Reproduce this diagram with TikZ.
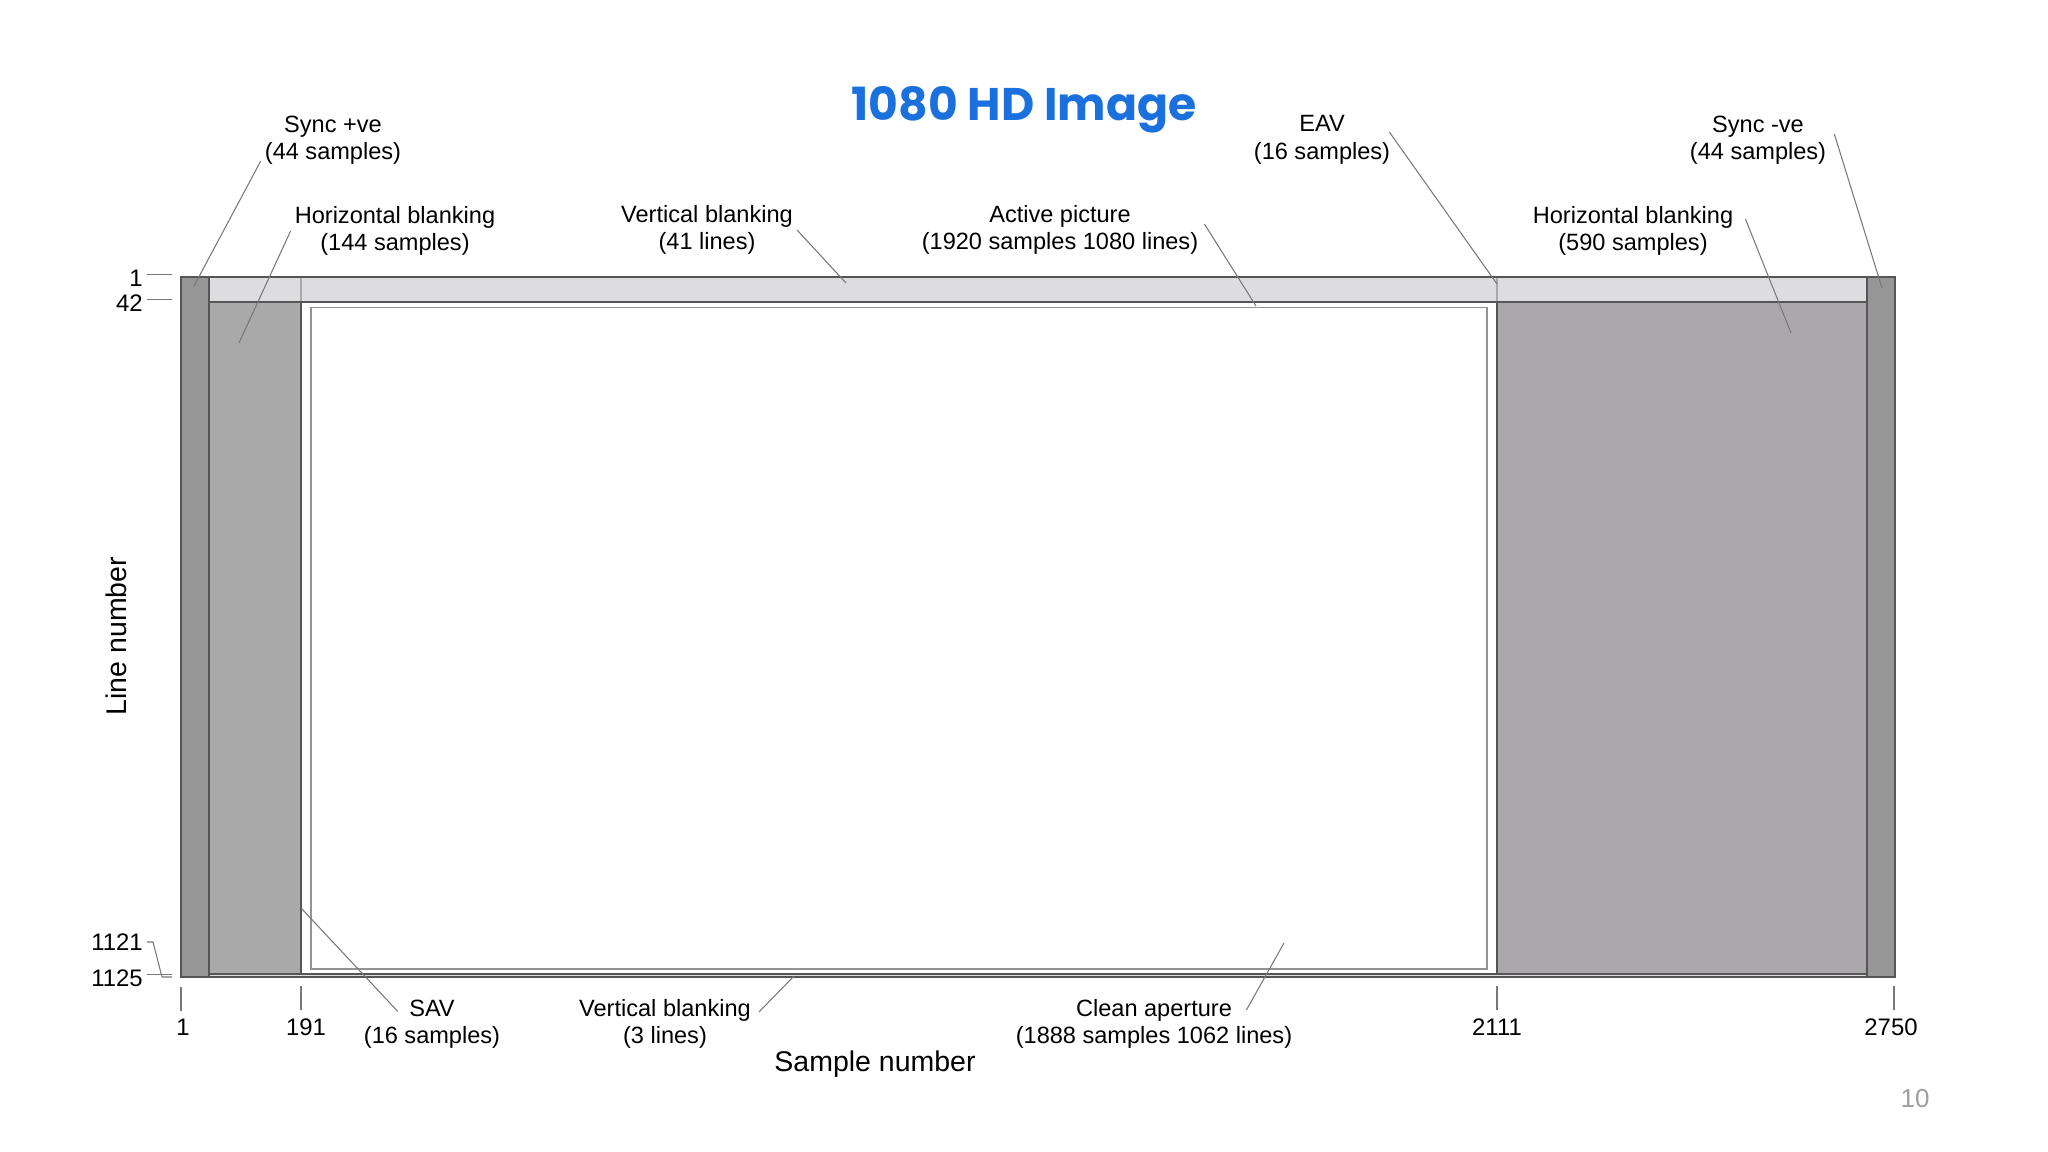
\documentclass[tikz,border=0pt]{standalone}
\usepackage{fontspec}
\setmainfont{Liberation Sans}
\newfontfamily\titlefont{Poppins}
\definecolor{titleblue}{RGB}{26,112,220}
\definecolor{syncgray}{RGB}{150,150,150}
\definecolor{hbgray}{RGB}{169,169,169}
\definecolor{hbrgray}{RGB}{170,168,171}
\definecolor{vbgray}{RGB}{221,220,222}
\definecolor{edgegray}{RGB}{85,85,85}
\definecolor{leadgray}{RGB}{120,120,120}

\begin{document}
\begin{tikzpicture}[x=0.01cm, y=-0.01cm,
    lbl/.style={align=center, inner sep=1pt, font=\fontsize{6.7pt}{7.8pt}\selectfont},
    num/.style={inner sep=1pt, font=\fontsize{6.8pt}{7.8pt}\selectfont},
    axl/.style={inner sep=1pt, font=\fontsize{8.1pt}{9pt}\selectfont},
    lead/.style={draw=leadgray, line width=0.3pt},
    blk/.style={draw=edgegray, line width=0.4pt}]
    \useasboundingbox (0,0) rectangle (2048,1152);
    \fill[vbgray] (209,277) rectangle (1867,302);
    \fill[vbgray] (209,974) rectangle (1867,977);
    \fill[syncgray] (181,277) rectangle (209,977);
    \fill[syncgray] (1867,277) rectangle (1895,977);
    \fill[hbgray] (209,302) rectangle (301,974);
    \fill[hbrgray] (1497,302) rectangle (1867,974);
    \draw[edgegray!50, line width=0.3pt] (301,277) -- (301,302) (1497,277) -- (1497,302);
    \draw[blk] (181,277) rectangle (1895,977);
    \draw[blk] (209,277) -- (209,977) (1867,277) -- (1867,977);
    \draw[blk] (209,302) -- (1867,302) (209,974) -- (1867,974);
    \draw[blk] (301,302) -- (301,974) (1497,302) -- (1497,974);
    \draw[gray!85, line width=0.5pt] (311,307.5) rectangle (1487,969);

    \node[font=\titlefont\bfseries\fontsize{13pt}{15pt}\selectfont, text=titleblue] (title) at (1024,110) {1080 HD Image};

    \node[lbl] (syncp) at (333,140) {Sync +ve\\(44 samples)};
    \node[lbl] (hbl) at (395,231) {Horizontal blanking\\(144 samples)};
    \node[lbl] (vbt) at (707,230) {Vertical blanking\\(41 lines)};
    \node[lbl] (act) at (1060,230) {Active picture\\(1920 samples 1080 lines)};
    \node[lbl] (eav) at (1322,140) {EAV\\(16 samples)};
    \node[lbl] (hbr) at (1633,231) {Horizontal blanking\\(590 samples)};
    \node[lbl] (syncn) at (1758,140) {Sync -ve\\(44 samples)};
    \node[lbl] (sav) at (432,1024) {SAV\\(16 samples)};
    \node[lbl] (vbb) at (665,1024) {Vertical blanking\\(3 lines)};
    \node[lbl] (cln) at (1154,1024) {Clean aperture\\(1888 samples 1062 lines)};

    \coordinate (syncpend) at (194,286);
    \coordinate (hblend) at (239,343);
    \coordinate (vbtend) at (846,283);
    \coordinate (actend) at (1256,306);
    \coordinate (eavend) at (1497,284);
    \coordinate (hbrend) at (1791,333);
    \coordinate (syncnend) at (1882,288);
    \coordinate (savend) at (302,909);
    \coordinate (vbbend) at (794,976);
    \coordinate (clnend) at (1284,943);
    \draw[lead] ([yshift=-6]syncp.west) -- (syncpend);
    \draw[lead] (hbl.west) -- (hblend);
    \draw[lead] (vbt.east) -- (vbtend);
    \draw[lead] ([shift={(2,-6)}]act.east) -- (actend);
    \draw[lead] ([shift={(-5,-8)}]eav.east) -- (eavend);
    \draw[lead] ([shift={(8,-12)}]hbr.east) -- (hbrend);
    \draw[lead] ([shift={(4,-6)}]syncn.east) -- (syncnend);
    \draw[lead] ([shift={(38,16)}]sav.north west) -- (savend);
    \draw[lead] ([shift={(4,-12)}]vbb.east) -- (vbbend);
    \draw[lead] ([shift={(-50,-14)}]cln.east) -- (clnend);

    \node[num, anchor=east] (r1) at (147,278) {1};
    \node[num, anchor=east] (r42) at (147,303) {42};
    \node[num, anchor=east] (r1121) at (147,942) {1121};
    \node[num, anchor=east] (r1125) at (147,978) {1125};
    \draw[lead] ([yshift=1]r1.east) -- ++(25,0);
    \draw[lead] ([yshift=1]r42.east) -- ++(25,0);
    \draw[lead] (r1121.east) -- ++(6,0) -- ++(9,35) -- ++(10,0);
    \draw[lead] ([yshift=1]r1125.east) -- ++(25,0);

    \node[num] (c1) at (183,1027) {1};
    \node[num] (c191) at (306,1027) {191};
    \node[num] (c2111) at (1497,1027) {2111};
    \node[num] (c2750) at (1891,1027) {2750};
    \draw[lead] ([shift={(-2,-4)}]c1.north) -- ++(0,-24);
    \draw[lead] ([shift={(-5,-4)}]c191.north) -- ++(0,-24);
    \draw[lead] ([shift={(0,-4)}]c2111.north) -- ++(0,-24);
    \draw[lead] ([shift={(3,-4)}]c2750.north) -- ++(0,-24);

    \node[axl] (xlab) at (875,1064) {Sample number};
    \node[axl, rotate=90] (ylab) at (116,636) {Line number};
    \node[inner sep=1pt, font=\fontsize{7.4pt}{8pt}\selectfont, text=gray!75] (page) at (1915,1099) {10};
\end{tikzpicture}
\end{document}
